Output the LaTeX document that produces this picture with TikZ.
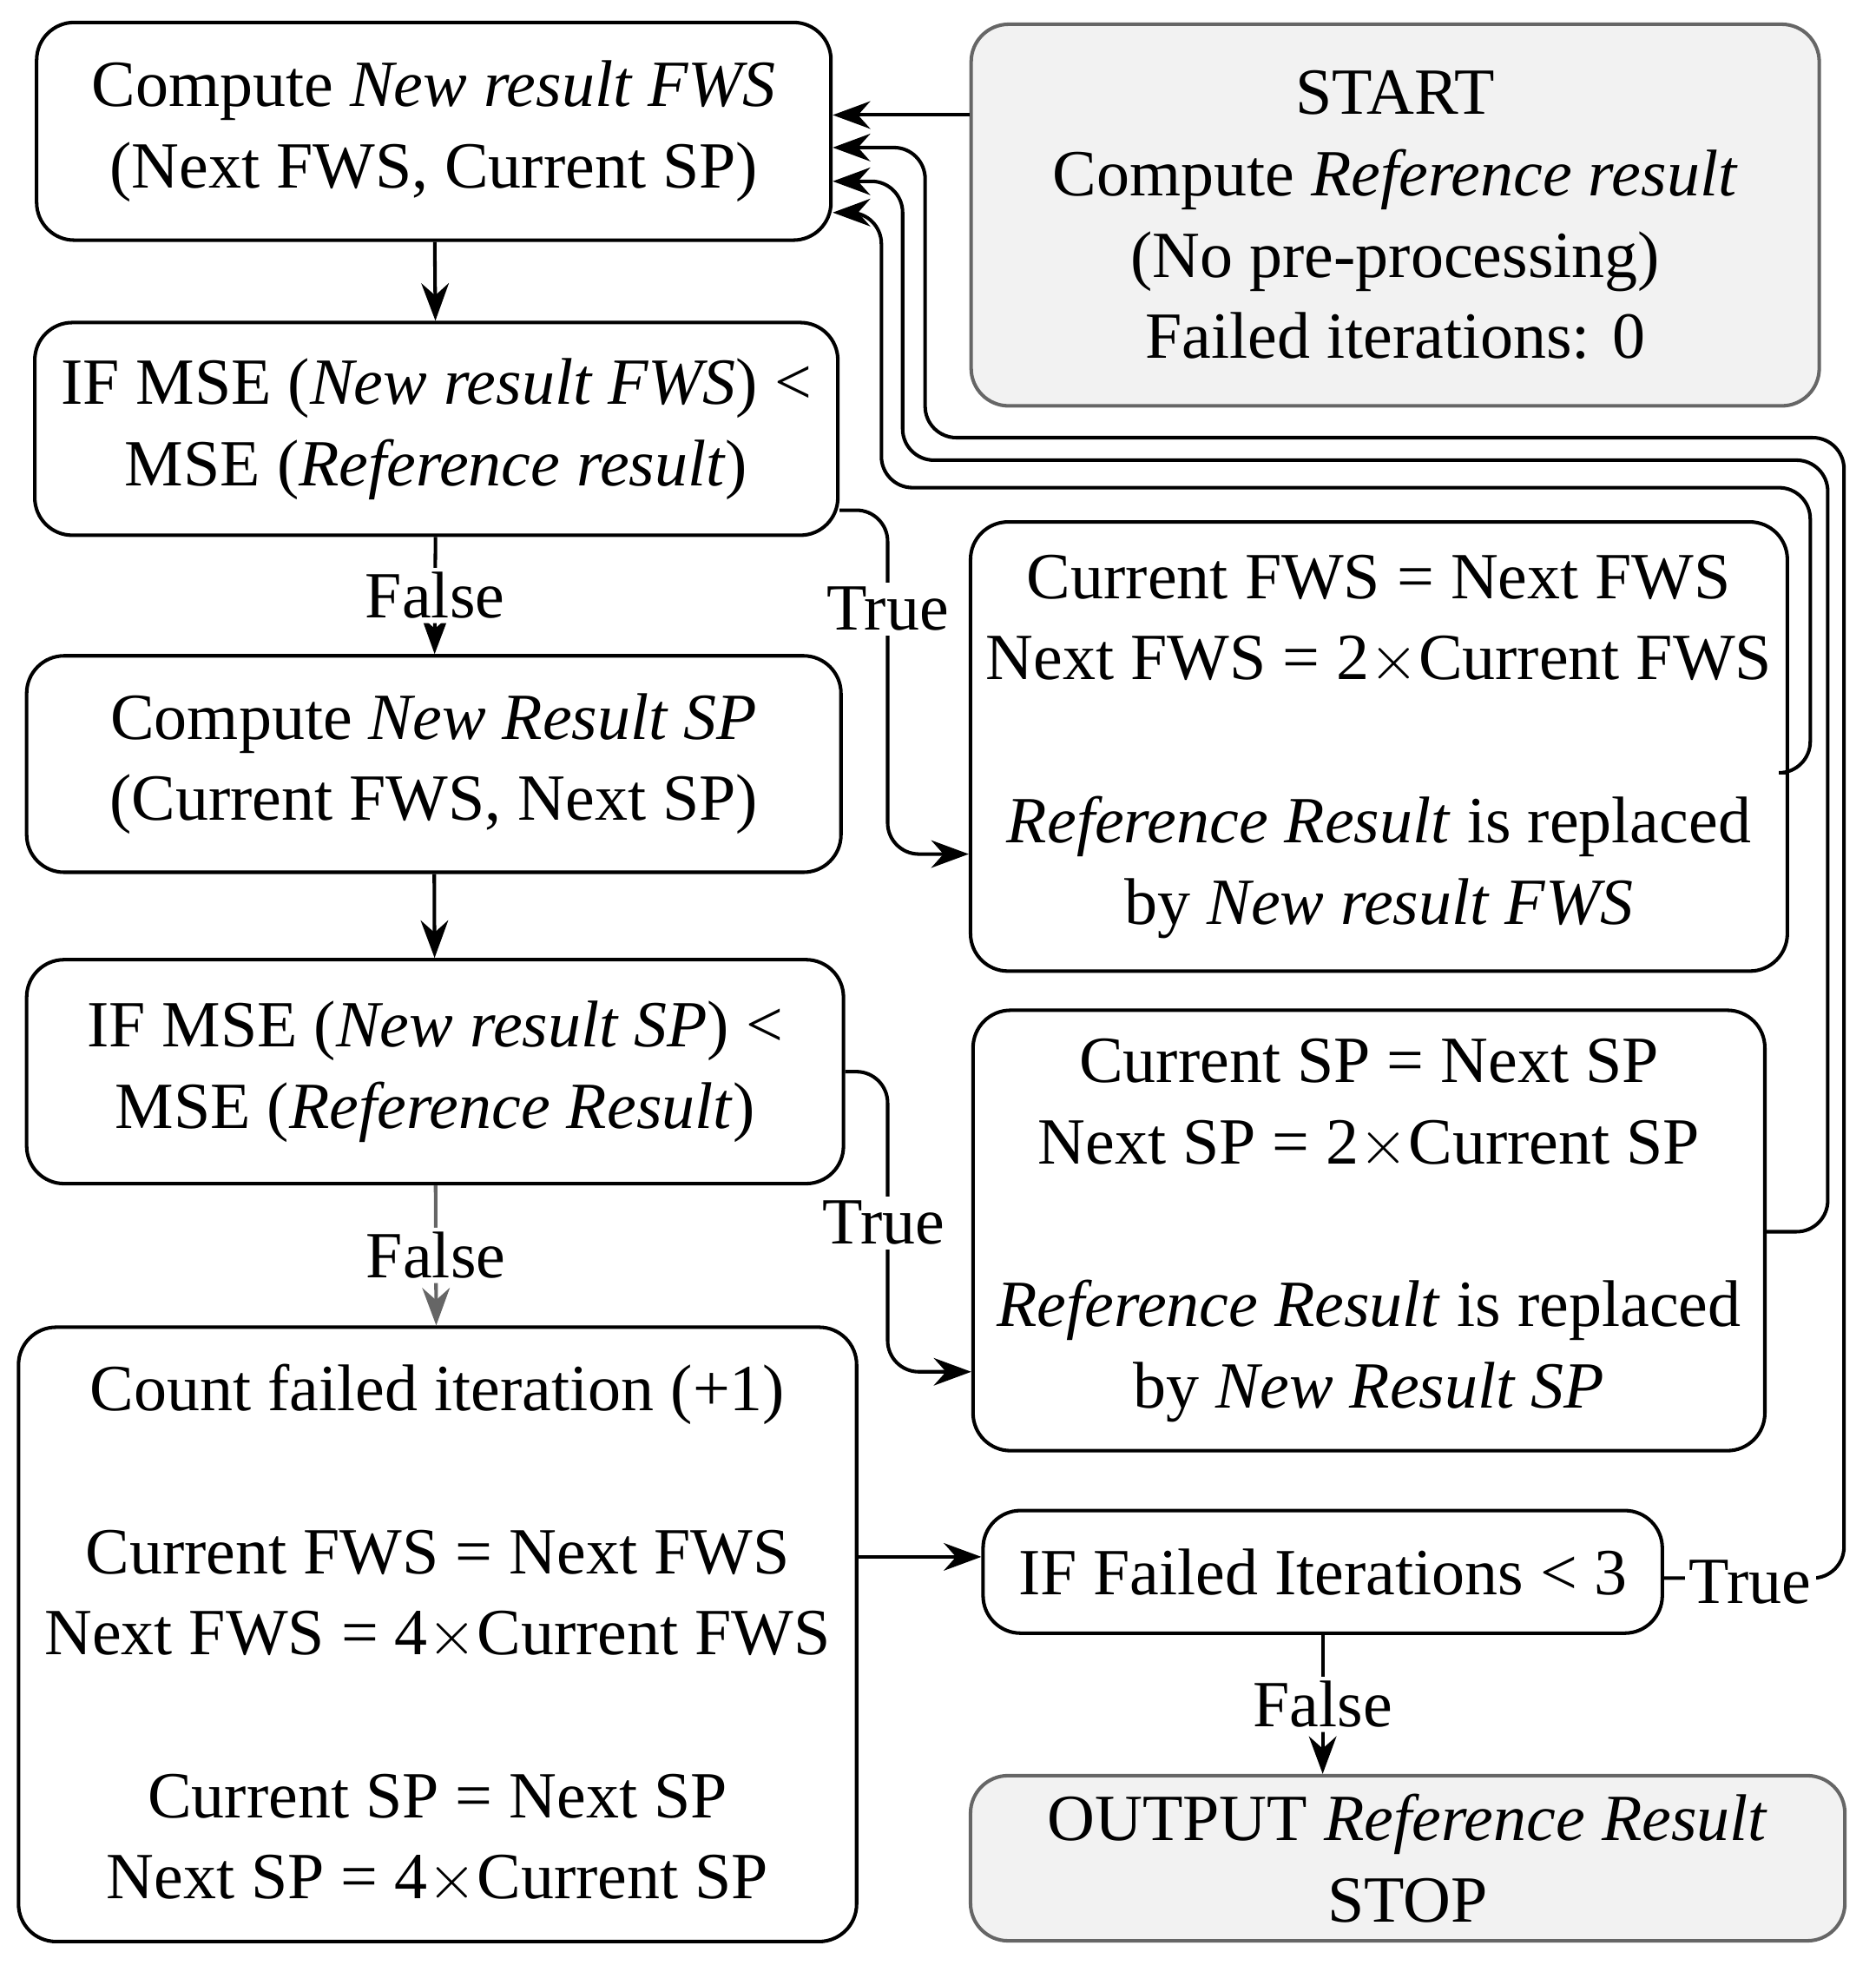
\documentclass[tikz,border=0pt]{standalone}
\usepackage{fontspec}
\setmainfont{Liberation Serif}
\usetikzlibrary{arrows.meta}
\begin{document}
\begin{tikzpicture}[x=0.01cm,y=-0.01cm,
 box/.style={draw,thick,rounded corners=0.3cm,align=center,inner sep=0pt,font=\fontsize{15}{18.5}\selectfont},
 gbox/.style={box,draw=black!60,fill=black!5},
 lbl/.style={font=\fontsize{15}{18.5}\selectfont,fill=white,inner sep=1pt},
 arr/.style={thick,-{Stealth[length=0.3cm,width=0.22cm]},rounded corners=0.25cm},
 ]
\useasboundingbox (0,0) rectangle (1500,1577);
% boxes
\node[box,minimum width=6.35cm,minimum height=1.74cm] (fws) at (347,105) {Compute \textit{New result FWS}\\(Next FWS, Current SP)};
\node[gbox,minimum width=6.78cm,minimum height=3.05cm] (start) at (1116,172) {START\\Compute \textit{Reference result}\\(No pre-processing)\\Failed iterations: 0};
\node[box,minimum width=6.42cm,minimum height=1.7cm] (iffws) at (349,343) {IF MSE (\textit{New result FWS}) <\\MSE (\textit{Reference result})};
\node[box,minimum width=6.51cm,minimum height=1.73cm] (sp) at (347,611) {Compute \textit{New Result SP}\\(Current FWS, Next SP)};
\node[box,minimum width=6.53cm,minimum height=1.79cm] (ifsp) at (348,857) {IF MSE (\textit{New result SP}) <\\MSE (\textit{Reference Result})};
\node[box,minimum width=6.7cm,minimum height=4.91cm] (count) at (350,1307) {Count failed iteration (+1)\\[\baselineskip]Current FWS = Next FWS\\Next FWS = 4$\times$Current FWS\\[\baselineskip]Current SP = Next SP\\Next SP = 4$\times$Current SP};
\node[box,minimum width=6.53cm,minimum height=3.59cm] (updfws) at (1103,597) {Current FWS = Next FWS\\Next FWS = 2$\times$Current FWS\\[\baselineskip]\textit{Reference Result} is replaced\\by \textit{New result FWS}};
\node[box,minimum width=6.33cm,minimum height=3.52cm] (updsp) at (1095,984) {Current SP = Next SP\\Next SP = 2$\times$Current SP\\[\baselineskip]\textit{Reference Result} is replaced\\by \textit{New Result SP}};
\node[box,minimum width=5.43cm,minimum height=0.98cm] (iffail) at (1058,1257) {IF Failed Iterations < 3};
\node[gbox,minimum width=6.99cm,minimum height=1.32cm] (out) at (1126,1486) {OUTPUT \textit{Reference Result}\\STOP};
% connectors
\draw[arr] (start.west |- 0,92) -- (fws.east |- 0,92);
\draw[arr] (fws) -- (iffws);
\draw[arr] (iffws.east |- 0,408) -| (710,683) -- (updfws.west |- 0,683);
\node[lbl] (t1) at (710,487) {True};
\draw[arr] (iffws) -- node[lbl] {False} (sp);
\draw[arr] (sp) -- (ifsp);
\draw[arr] (ifsp.east |- 0,857) -| (710,1097) -- (updsp.west |- 0,1097);
\node[lbl] (t2) at (707,978) {True};
\draw[arr,black!60] (ifsp) -- node[lbl,text=black] {False} (count);
\draw[arr] (count.east |- 0,1245) -- (iffail.west |- 0,1245);
\draw[arr] (iffail.south) -- node[lbl] {False} (iffail.south |- out.north);
\draw[arr] (iffail.east |- 0,1262) -- (1475,1262) -- (1475,350) -- (740,350) -- (740,118) -- (fws.east |- 0,118);
\node[lbl] (t3) at (1400,1265) {True};
\draw[arr] (updsp.east |- 0,985) -- (1462,985) -- (1462,368) -- (722,368) -- (722,145) -- (fws.east |- 0,145);
\draw[arr] (updfws.east |- 0,618) -- (1448,618) -- (1448,390) -- (705,390) -- (705,170) -- (fws.east |- 0,170);
\end{tikzpicture}
\end{document}
